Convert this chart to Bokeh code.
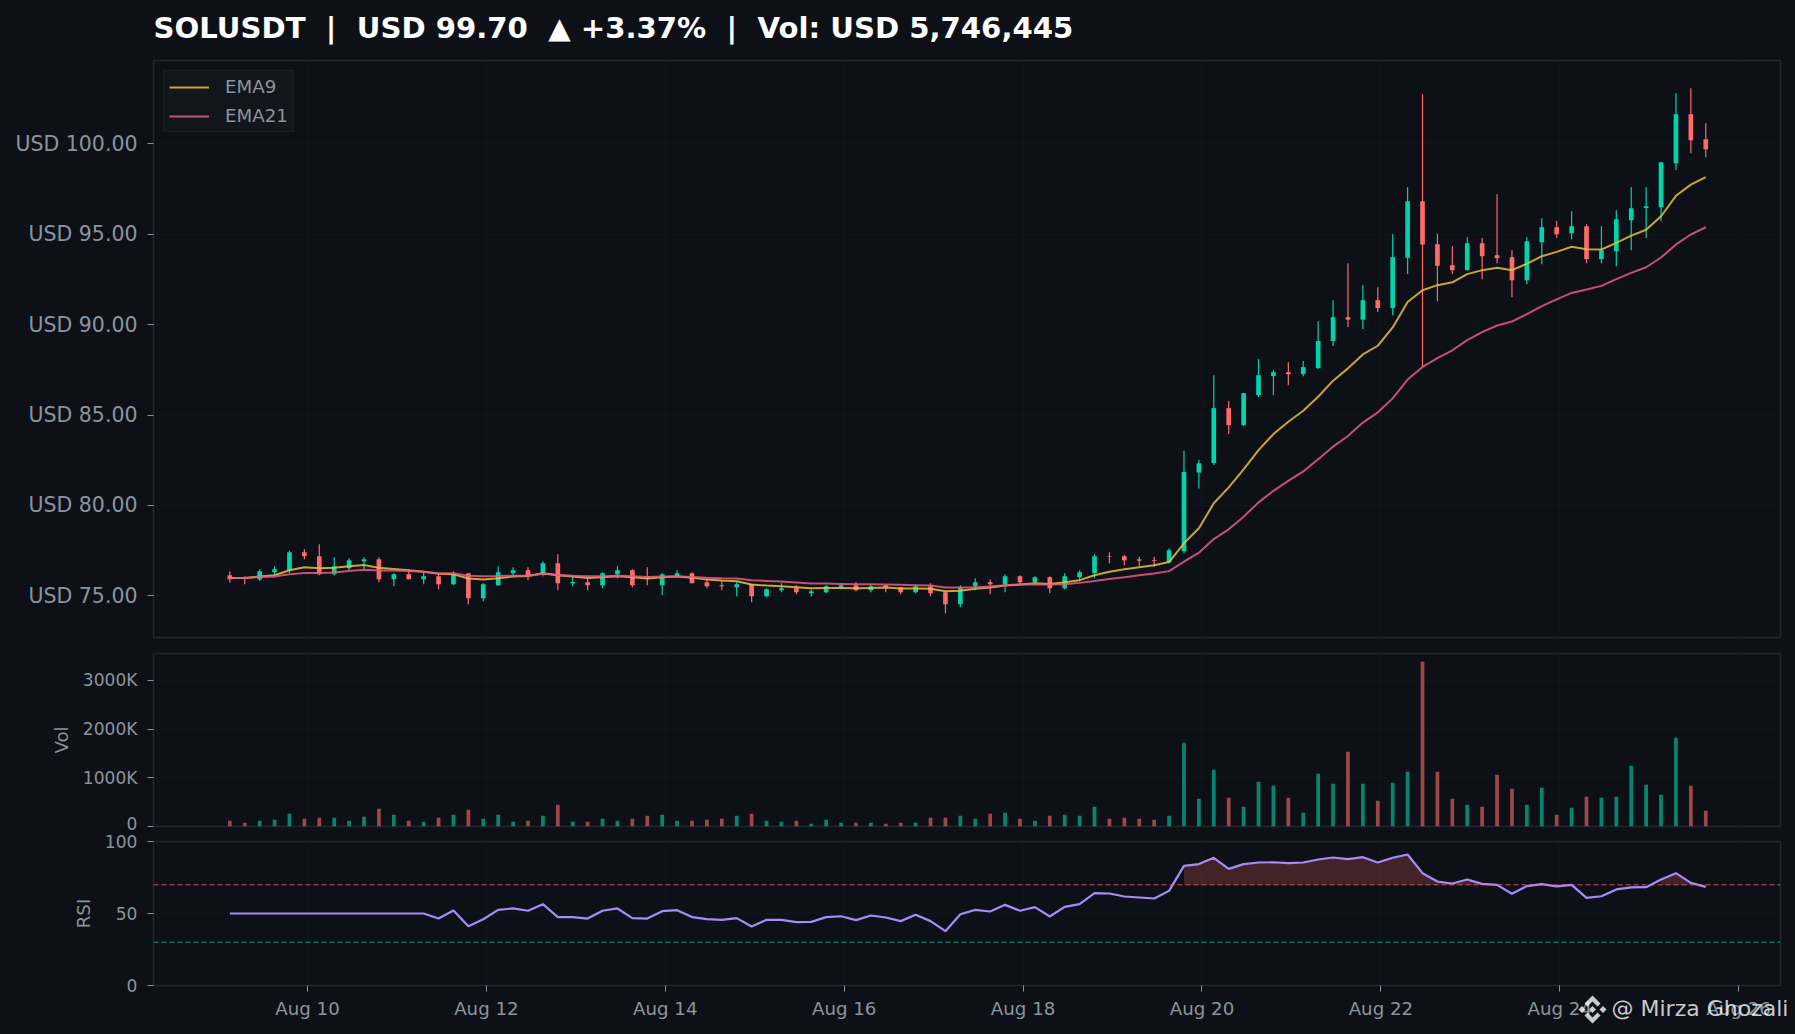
import numpy as np
import pandas as pd
from bokeh.core.properties import value
from bokeh.embed import file_html
from bokeh.layouts import column
from bokeh.models import (ColumnDataSource, DatetimeTickFormatter, FixedTicker,
                          Legend, LegendItem, PrintfTickFormatter, Range1d, Span)
from bokeh.plotting import figure
from bokeh.resources import INLINE

TITLE = "SOLUSDT \u00a0|\u00a0 USD 99.70 \u00a0\u25b2 +3.37% \u00a0|\u00a0 Vol: USD 5,746,445"
WATERMARK = "@ Mirza Ghozali"

opens = [
 76.14,76.03,75.90,76.31,76.42,77.41,77.19,76.20,76.53,76.92,
 77.03,75.92,76.20,75.92,76.09,75.64,76.25,74.87,75.59,76.25,
 76.42,76.25,76.80,75.70,75.76,75.59,76.20,76.42,76.09,75.59,
 76.09,76.25,75.76,75.59,75.48,75.64,74.98,75.31,75.42,75.15,
 75.20,75.48,75.59,75.31,75.59,75.48,75.20,75.53,75.20,74.54,
 75.53,75.76,75.64,76.09,75.76,76.03,75.42,76.03,76.25,77.19,
 77.19,77.03,76.98,76.86,77.47,81.82,82.35,85.38,84.44,86.10,
 87.15,87.37,87.26,87.59,89.09,90.41,90.27,91.35,90.91,93.69,
 96.82,94.44,93.28,93.01,94.50,93.84,93.73,92.45,94.55,95.38,
 95.05,95.44,93.62,94.06,95.77,96.45,96.49,98.92,101.63,100.25]
highs = [
 76.36,76.09,76.47,76.64,77.49,77.58,77.85,77.14,77.08,77.14,
 77.14,76.25,76.47,76.31,76.20,76.36,76.25,75.70,76.64,76.58,
 76.58,76.92,77.30,76.09,75.98,76.31,76.64,76.47,76.58,76.25,
 76.42,76.31,75.98,75.87,75.76,75.64,75.42,75.70,75.59,75.37,
 75.59,75.70,75.76,75.64,75.59,75.48,75.64,75.70,75.26,75.59,
 75.98,75.92,76.20,76.14,76.09,76.09,76.25,76.42,77.30,77.41,
 77.27,77.16,77.16,77.64,83.03,82.52,87.20,85.77,86.21,88.09,
 87.48,87.92,87.98,90.19,91.35,93.39,92.18,92.07,95.00,97.60,
 102.74,95.02,94.33,94.83,94.78,97.21,94.11,94.83,95.88,95.72,
 96.27,95.55,95.44,96.32,97.60,97.60,98.98,102.79,103.07,101.13]
lows = [
 75.72,75.64,75.83,76.18,76.27,77.03,76.14,76.14,76.42,76.47,
 75.76,75.53,75.92,75.64,75.37,75.59,74.54,74.71,75.59,76.14,
 75.87,76.09,75.31,75.53,75.31,75.42,75.98,75.48,75.59,75.04,
 76.09,75.70,75.42,75.31,74.98,74.65,74.93,75.20,75.09,74.98,
 75.15,75.37,75.26,75.20,75.20,75.09,75.15,74.98,74.04,74.37,
 75.31,75.09,75.20,75.64,75.59,75.15,75.37,75.81,75.98,76.80,
 76.69,76.64,76.61,76.79,77.36,80.94,82.24,83.95,84.39,85.99,
 86.10,86.65,87.15,87.54,88.81,89.86,89.75,90.69,90.52,92.80,
 87.66,91.29,92.79,93.01,92.51,93.39,91.51,92.23,93.34,94.78,
 94.72,93.39,93.39,93.23,94.11,94.78,95.72,98.54,99.47,99.25]
closes = [
 75.92,75.96,76.36,76.47,77.41,77.19,76.20,76.64,76.97,77.03,
 75.92,76.20,75.92,76.09,75.64,76.20,74.87,75.64,76.31,76.42,
 76.09,76.80,75.70,75.77,75.59,76.25,76.42,75.59,75.98,76.20,
 76.25,75.70,75.53,75.53,75.64,74.98,75.37,75.42,75.20,75.26,
 75.53,75.59,75.31,75.53,75.48,75.20,75.53,75.15,74.54,75.48,
 75.76,75.64,76.09,75.76,76.03,75.42,76.09,76.31,77.19,77.17,
 76.97,76.94,76.94,77.53,81.85,82.33,85.38,84.44,86.21,87.20,
 87.37,87.26,87.65,89.09,90.41,90.27,91.35,90.91,93.73,96.82,
 94.43,93.25,93.01,94.50,93.78,93.67,92.45,94.61,95.38,95.00,
 95.44,93.62,94.11,95.83,96.43,96.54,98.98,101.63,100.19,99.70]
ema9 = [
 75.99,75.99,76.07,76.14,76.42,76.58,76.53,76.55,76.64,76.71,
 76.55,76.49,76.42,76.33,76.22,76.20,75.96,75.90,75.98,76.07,
 76.10,76.25,76.14,76.07,75.99,76.03,76.09,76.03,75.96,76.03,
 76.07,76.01,75.90,75.85,75.81,75.63,75.57,75.53,75.48,75.42,
 75.44,75.44,75.42,75.44,75.46,75.41,75.41,75.39,75.26,75.29,
 75.39,75.46,75.57,75.63,75.70,75.66,75.76,75.87,76.14,76.34,
 76.47,76.58,76.70,76.87,77.91,78.74,80.12,81.00,82.00,83.06,
 83.95,84.63,85.24,86.01,86.90,87.58,88.35,88.83,89.84,91.25,
 91.90,92.18,92.34,92.79,93.01,93.14,93.01,93.36,93.78,94.02,
 94.30,94.17,94.15,94.52,94.92,95.24,95.99,97.12,97.74,98.15]
ema21 = [
 75.99,75.99,76.05,76.07,76.20,76.27,76.27,76.29,76.38,76.44,
 76.40,76.40,76.38,76.33,76.25,76.25,76.12,76.09,76.10,76.12,
 76.12,76.23,76.16,76.12,76.09,76.09,76.12,76.09,76.05,76.07,
 76.09,76.05,76.01,75.98,75.96,75.87,75.83,75.79,75.74,75.68,
 75.68,75.66,75.64,75.64,75.63,75.61,75.59,75.57,75.46,75.46,
 75.48,75.52,75.59,75.63,75.64,75.63,75.64,75.72,75.83,75.94,
 76.03,76.14,76.24,76.37,76.89,77.39,78.14,78.68,79.38,80.17,
 80.81,81.36,81.88,82.55,83.25,83.84,84.58,85.15,85.92,86.96,
 87.66,88.14,88.58,89.14,89.58,89.95,90.17,90.58,91.02,91.39,
 91.75,91.94,92.14,92.51,92.86,93.17,93.71,94.43,94.98,95.38]
volumes_k = [
 116,75,116,137,260,158,178,178,116,199,
 363,240,116,96,178,240,342,158,240,96,
 116,219,445,96,96,158,116,158,219,240,
 116,116,137,158,219,260,116,96,116,55,
 137,75,75,75,55,75,75,178,178,219,
 158,260,281,158,116,219,240,219,404,158,
 178,158,137,219,1719,568,1164,589,404,918,
 836,589,281,1082,877,1534,877,527,897,1123,
 3382,1123,568,445,404,1062,774,445,795,240,
 384,610,589,610,1247,856,651,1822,836,322]
rsi = [
 50,50,50,50,50,50,50,50,50,50,
 50,50,50,50,46.5,52.1,41.2,46.0,52.5,53.5,
 51.9,56.5,47.5,47.5,46.5,51.9,53.5,46.8,46.5,51.6,
 52.3,47.5,46.1,45.6,46.8,41.0,45.6,45.6,44.0,44.2,
 47.5,48.1,45.4,48.6,47.2,44.7,49.1,44.7,37.7,49.5,
 52.5,51.4,56.0,51.9,54.4,47.9,54.6,56.5,64.1,63.9,
 61.8,61.1,60.4,65.7,83.1,84.3,88.7,81.0,84.3,85.4,
 85.6,85.0,85.4,87.5,88.9,87.7,89.1,85.4,88.7,91.0,
 78.0,72.2,70.8,73.6,70.6,69.9,63.7,69.0,70.4,68.8,
 69.9,60.9,62.0,66.7,68.1,68.3,73.6,78.0,71.3,68.5]

price_ticks = [75, 80, 85, 90, 95, 100]
vol_ticks = [0, 1000, 2000, 3000]
vol_labels = ["0", "1000K", "2000K", "3000K"]
rsi_ticks = [0, 50, 100]
date_ticks = ["2024-08-10", "2024-08-12", "2024-08-14", "2024-08-16",
              "2024-08-18", "2024-08-20", "2024-08-22", "2024-08-24", "2024-08-26"]
first_candle = "2024-08-09 03:10"
x_limits = ("2024-08-08 06:41", "2024-08-26 11:13")
price_limits = (72.7, 104.6)
vol_limits = (0, 3552)
rsi_limits = (0, 100)

BG = "#0d1117"; SPINE = "#21262d"; TICK = "#8b949e"
UP = "#00d4aa"; DOWN = "#ff6b6b"; C9 = "#ecc035"; C21 = "#e8598a"; RSI = "#a78bfa"
FW = 1627
SMALL = "18.2px"; TICK_SM = "17.1px"; BIG = "20.5px"; FONT = "DejaVu Sans"
HOUR = 3600 * 1000
FOUR_H = 4 * HOUR


def ms(s):
    return pd.Timestamp(s).value / 1e6


dates = [ms(first_candle) + i * FOUR_H for i in range(len(closes))]
tick_ms = [ms(d) for d in date_ticks]
colors = [UP if c >= o else DOWN for o, c in zip(opens, closes)]
src = ColumnDataSource(dict(
    x=dates, o=opens, h=highs, l=lows, c=closes,
    top=[max(a, b) for a, b in zip(opens, closes)],
    bot=[min(a, b) for a, b in zip(opens, closes)],
    e9=ema9, e21=ema21, v=volumes_k, r=rsi, col=colors))
xr = Range1d(ms(x_limits[0]), ms(x_limits[1]))


def base(fh, yr, top, bottom, yticks, **kw):
    p = figure(frame_width=FW, frame_height=fh, x_axis_type="datetime", x_range=xr,
               y_range=Range1d(*yr), output_backend="svg", toolbar_location=None,
               min_border_left=153, min_border_right=15, min_border_top=top,
               min_border_bottom=bottom, background_fill_color=BG, border_fill_color=BG,
               outline_line_color=SPINE, outline_line_width=1.5, **kw)
    p.xgrid.ticker = FixedTicker(ticks=tick_ms)
    p.yaxis.ticker = FixedTicker(ticks=yticks)
    p.ygrid.ticker = FixedTicker(ticks=yticks)
    for g in (p.xgrid, p.ygrid):
        g.grid_line_color = SPINE
        g.grid_line_alpha = 0.2
        g.grid_line_width = 1
    ax = p.yaxis[0]
    ax.axis_line_color = None
    ax.major_tick_line_color = TICK
    ax.major_tick_out = 6
    ax.major_tick_in = 0
    ax.minor_tick_line_color = None
    ax.major_label_text_color = TICK
    ax.major_label_text_font = FONT
    ax.major_label_text_font_size = TICK_SM
    ax.major_label_standoff = 10
    ax.axis_label_text_color = TICK
    ax.axis_label_text_font = FONT
    ax.axis_label_text_font_size = SMALL
    ax.axis_label_text_font_style = "normal"
    ax.axis_label_standoff = 8
    return p


# price panel: the title's own panel is taller than the gap above the frame,
# so the figure is pulled up by the excess
p1 = base(577, price_limits, 60, 8, price_ticks, title=TITLE, margin=(-7, 0, 0, 0))
p1.title.text_color = "#ffffff"
p1.title.text_font = FONT
p1.title.text_font_style = "bold"
p1.title.text_font_size = "29.15px"
p1.title.align = "left"
p1.title.offset = 0
p1.title.standoff = 31
p1.xaxis.visible = False
p1.yaxis[0].formatter = PrintfTickFormatter(format="USD %.2f")
p1.yaxis[0].major_label_text_font_size = BIG
p1.segment("x", "h", "x", "l", source=src, color="col", line_width=1.2)
p1.vbar("x", 1.25 * HOUR, "top", "bot", source=src, fill_color="col", line_color=None)
l9 = p1.line("x", "e9", source=src, color=C9, line_width=2, line_alpha=0.85)
l21 = p1.line("x", "e21", source=src, color=C21, line_width=2, line_alpha=0.85)
legend = Legend(items=[LegendItem(label="EMA9", renderers=[l9]),
                       LegendItem(label="EMA21", renderers=[l21])],
                location="top_left", margin=10, padding=5, spacing=8,
                glyph_width=40, glyph_height=20, label_height=20, label_standoff=16,
                background_fill_color="#161b22", background_fill_alpha=0.55,
                border_line_color=SPINE, border_line_width=1,
                label_text_color=TICK, label_text_font=FONT, label_text_font_size=SMALL)
p1.add_layout(legend, "center")

# volume panel
p2 = base(173, vol_limits, 8, 7, vol_ticks, y_axis_label="Vol")
p2.xaxis.visible = False
p2.yaxis[0].major_label_overrides = dict(zip(vol_ticks, vol_labels))
p2.vbar("x", 1.0 * HOUR, "v", 0, source=src, fill_color="col", fill_alpha=0.6, line_color=None)

# RSI panel
p3 = base(144, rsi_limits, 8, 49, rsi_ticks, y_axis_label="RSI")
xa = p3.xaxis[0]
xa.ticker = FixedTicker(ticks=tick_ms)
xa.formatter = DatetimeTickFormatter(days="%b %d", months="%b %d", hours="%b %d", years="%b %d",
                                     context=None)
xa.axis_line_color = None
xa.major_tick_line_color = TICK
xa.major_tick_out = 6
xa.major_tick_in = 0
xa.minor_tick_line_color = None
xa.major_label_text_color = TICK
xa.major_label_text_font = FONT
xa.major_label_text_font_size = SMALL
xa.major_label_standoff = 6

rsi_arr = np.array(rsi)
start = None
for i in range(len(rsi) + 1):
    over = i < len(rsi) and rsi_arr[i] >= 70
    if over and start is None:
        start = i
    elif not over and start is not None:
        if i - start > 1:
            p3.varea(dates[start:i], [70] * (i - start), rsi[start:i], fill_color=DOWN, fill_alpha=0.22)
        start = None
p3.add_layout(Span(location=70, dimension="width", line_color=DOWN, line_alpha=0.5,
                   line_width=1.5, line_dash="5 3"))
p3.add_layout(Span(location=30, dimension="width", line_color=UP, line_alpha=0.5,
                   line_width=1.5, line_dash="5 3"))
p3.line("x", "r", source=src, color=RSI, line_width=2.2)

# watermark: a transparent strip as wide as the page, laid over its bottom edge
wm = figure(frame_width=1795, frame_height=40, x_range=Range1d(0, 1795), y_range=Range1d(40, 0),
            x_axis_location=None, y_axis_location=None, output_backend="svg",
            toolbar_location=None, min_border_left=0, min_border_right=0, min_border_top=0,
            min_border_bottom=0, outline_line_color=None,
            background_fill_alpha=0, border_fill_alpha=0, margin=(-43, 0, 0, 0))
wm.grid.visible = False
wm.text(x=[1611], y=[17], text=[WATERMARK], text_color="#ffffff", text_alpha=0.78,
        text_font=value(FONT), text_font_size="22px", text_baseline="alphabetic")
LOGO_X, LOGO_Y = 1592, 18
logo_parts = [
    [(0, -14), (8, -6), (5, -3), (0, -8), (-5, -3), (-8, -6)],
    [(0, 14), (8, 6), (5, 3), (0, 8), (-5, 3), (-8, 6)],
    [(-14, 0), (-10.5, -3.5), (-7, 0), (-10.5, 3.5)],
    [(14, 0), (10.5, -3.5), (7, 0), (10.5, 3.5)],
    [(0, -3.5), (3.5, 0), (0, 3.5), (-3.5, 0)],
]
wm.patches([[LOGO_X + a for a, _ in part] for part in logo_parts],
           [[LOGO_Y + b for _, b in part] for part in logo_parts],
           fill_color="#ffffff", fill_alpha=0.78, line_alpha=0)

# the panels sit in their own column so that the strip is not aligned with their frames
page = column(column(p1, p2, p3, spacing=0), wm, spacing=0)
html = file_html(page, INLINE, title="SOLUSDT")
html = html.replace("</head>", f"<style>html,body{{background:{BG};}}</style></head>", 1)
open("out.html", "w").write(html)
